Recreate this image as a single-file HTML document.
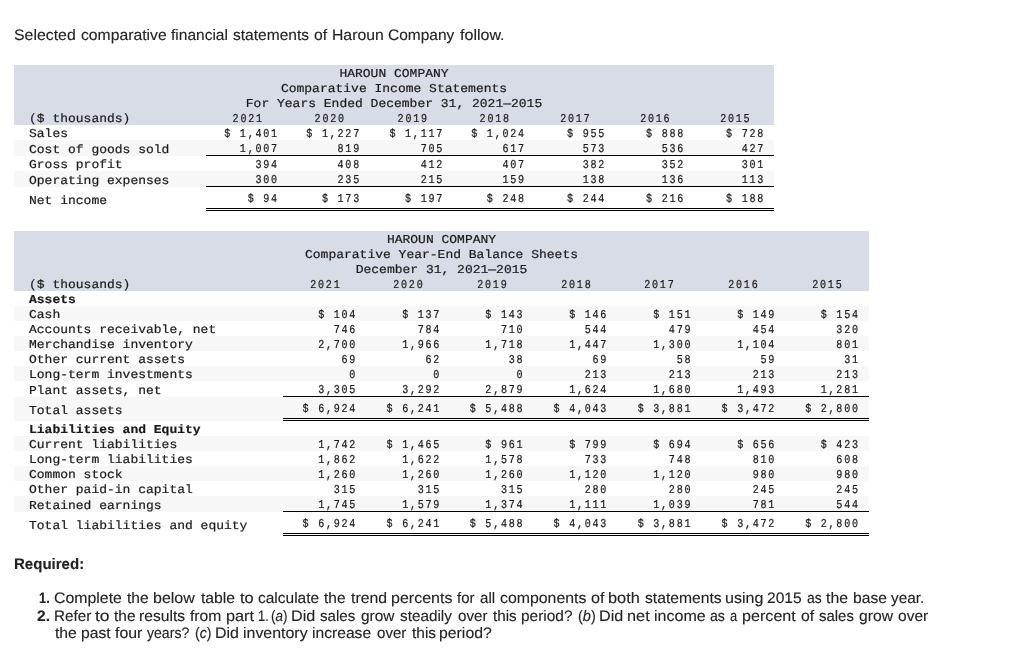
<!DOCTYPE html>
<html lang="en">
<head>
<meta charset="utf-8">
<title>Haroun Company</title>
<style>
html,body{margin:0;padding:0;background:#fff;}
body{position:relative;width:1018px;height:666px;overflow:hidden;font-family:"Liberation Sans",Arial,sans-serif;color:#222;}
.r{position:absolute;}
#tx{position:absolute;left:0;top:0;width:1018px;height:666px;}
.m{position:absolute;font-family:"Liberation Mono","Courier New",monospace;font-size:12px;letter-spacing:2.085px;transform:scaleX(0.84);line-height:15px;height:15px;white-space:pre;color:#1a1a1a;text-rendering:geometricPrecision;-webkit-text-stroke:0.22px #1a1a1a;}
.w{-webkit-text-stroke-width:0.2px;letter-spacing:0;transform:scaleX(1.08316);transform-origin:0 0;}
.b{font-weight:bold;}
.rt{text-align:right;transform-origin:100% 0;}
.ct{text-align:center;transform-origin:50% 0;}
.s{position:absolute;left:0;width:1018px;height:18px;font-size:15.2px;line-height:18px;white-space:pre;color:#222;text-rendering:geometricPrecision;-webkit-text-stroke:0.12px #222;}
.s span{position:absolute;top:0;transform-origin:0 0;}
.sb{font-weight:bold;}
</style>
</head>
<body>
<div class="s" id="intro" style="top:27px"><span style="left:13.98px;transform:scaleX(1.045)">Selected </span><span style="left:80.5px;transform:scaleX(1.035)">comparative </span><span style="left:171.3px;transform:scaleX(1.022)">financial </span><span style="left:232.6px;transform:scaleX(1.024)">statements </span><span style="left:313.9px;transform:scaleX(1.031)">of </span><span style="left:331.56px;transform:scaleX(1.037)">Haroun </span><span style="left:387.59px;transform:scaleX(1.020)">Company </span><span style="left:459.5px;transform:scaleX(1.056)">follow.</span></div>
<div class="s sb" id="req" style="top:556px"><span style="left:13.81px;transform:scaleX(0.990)">Required:</span></div>
<div class="s sb" id="n1" style="top:590px"><span style="left:39.18px;transform:scaleX(0.850)">1.</span></div>
<div class="s" id="l1" style="top:590px"><span style="left:53.98px;transform:scaleX(1.044)">Complete </span><span style="left:126.6px;transform:scaleX(1.024)">the </span><span style="left:152.65px;transform:scaleX(1.054)">below </span><span style="left:200.7px;transform:scaleX(1.034)">table </span><span style="left:239.6px;transform:scaleX(1.075)">to </span><span style="left:257.6px;transform:scaleX(1.020)">calculate </span><span style="left:324px;transform:scaleX(1.019)">the </span><span style="left:350.7px;transform:scaleX(1.041)">trend </span><span style="left:390.75px;transform:scaleX(1.054)">percents </span><span style="left:457.2px;transform:scaleX(0.983)">for </span><span style="left:480.2px;transform:scaleX(0.993)">all </span><span style="left:500px;transform:scaleX(1.044)">components </span><span style="left:591.1px;transform:scaleX(1.062)">of </span><span style="left:608.32px;transform:scaleX(1.075)">both </span><span style="left:644.8px;transform:scaleX(1.032)">statements </span><span style="left:725.44px;transform:scaleX(1.058)">using </span><span style="left:767.49px;transform:scaleX(1.028)">2015 </span><span style="left:806.7px;transform:scaleX(0.919)">as </span><span style="left:826.3px;transform:scaleX(1.048)">the </span><span style="left:852.57px;transform:scaleX(1.029)">base </span><span style="left:890.7px;transform:scaleX(1.012)">year.</span></div>
<div class="s sb" id="n2" style="top:608px"><span style="left:37px;transform:scaleX(1.025)">2.</span></div>
<div class="s" id="l2" style="top:608px"><span style="left:53.69px;transform:scaleX(1.008)">Refer </span><span style="left:95.4px;transform:scaleX(1.150)">to </span><span style="left:113.7px;transform:scaleX(1.019)">the </span><span style="left:139.47px;transform:scaleX(1.030)">results </span><span style="left:190.4px;transform:scaleX(1.030)">from </span><span style="left:225.93px;transform:scaleX(1.071)">part </span><span style="left:258.15px;transform:scaleX(0.850)">1. </span><span style="left:271.16px;transform:scaleX(0.886)">(<i>a</i>) </span><span style="left:291.33px;transform:scaleX(1.067)">Did </span><span style="left:320.1px;transform:scaleX(0.994)">sales </span><span style="left:360.5px;transform:scaleX(1.018)">grow </span><span style="left:399.5px;transform:scaleX(1.008)">steadily </span><span style="left:457.6px;transform:scaleX(0.997)">over </span><span style="left:493.1px;transform:scaleX(1.004)">this </span><span style="left:520.58px;transform:scaleX(1.016)">period? </span><span style="left:577.72px;transform:scaleX(0.954)">(<i>b</i>) </span><span style="left:599.04px;transform:scaleX(1.062)">Did </span><span style="left:627.03px;transform:scaleX(1.073)">net </span><span style="left:653.75px;transform:scaleX(1.055)">income </span><span style="left:710.4px;transform:scaleX(0.931)">as </span><span style="left:730px;transform:scaleX(0.850)">a </span><span style="left:741.94px;transform:scaleX(1.062)">percent </span><span style="left:800.8px;transform:scaleX(1.038)">of </span><span style="left:819.2px;transform:scaleX(0.983)">sales </span><span style="left:858.7px;transform:scaleX(1.033)">grow </span><span style="left:897.8px;transform:scaleX(1.023)">over</span></div>
<div class="s" id="l3" style="top:625px"><span style="left:54.5px;transform:scaleX(1.033)">the </span><span style="left:80.57px;transform:scaleX(1.029)">past </span><span style="left:114.8px;transform:scaleX(1.046)">four </span><span style="left:146.7px;transform:scaleX(0.927)">years? </span><span style="left:194.94px;transform:scaleX(0.927)">(<i>c</i>) </span><span style="left:215.25px;transform:scaleX(1.052)">Did </span><span style="left:242.65px;transform:scaleX(1.049)">inventory </span><span style="left:312.37px;transform:scaleX(1.030)">increase </span><span style="left:376.7px;transform:scaleX(0.993)">over </span><span style="left:411.8px;transform:scaleX(1.017)">this </span><span style="left:439.36px;transform:scaleX(1.042)">period?</span></div>
<div class="r" style="left:14px;top:65px;width:760px;height:60px;background:#d8dce6"></div>
<div class="r" style="left:14px;top:140px;width:760px;height:16px;background:#f7f7f7"></div>
<div class="r" style="left:206px;top:155px;width:568px;height:1px;background:#000"></div>
<div class="r" style="left:14px;top:171px;width:760px;height:16px;background:#f7f7f7"></div>
<div class="r" style="left:206px;top:186px;width:568px;height:1px;background:#000"></div>
<div class="r" style="left:206px;top:208px;width:568px;height:1px;background:#000"></div>
<div class="r" style="left:206px;top:210px;width:568px;height:1px;background:#000"></div>
<div class="r" style="left:14px;top:231px;width:855px;height:60px;background:#d8dce6"></div>
<div class="r" style="left:14px;top:306px;width:855px;height:15px;background:#f7f7f7"></div>
<div class="r" style="left:14px;top:336px;width:855px;height:15px;background:#f7f7f7"></div>
<div class="r" style="left:14px;top:366px;width:855px;height:15px;background:#f7f7f7"></div>
<div class="r" style="left:283px;top:396px;width:586px;height:1px;background:#000"></div>
<div class="r" style="left:14px;top:397px;width:855px;height:24px;background:#f7f7f7"></div>
<div class="r" style="left:283px;top:418px;width:586px;height:1px;background:#000"></div>
<div class="r" style="left:283px;top:420px;width:586px;height:1px;background:#000"></div>
<div class="r" style="left:14px;top:436px;width:855px;height:15px;background:#f7f7f7"></div>
<div class="r" style="left:14px;top:466px;width:855px;height:15px;background:#f7f7f7"></div>
<div class="r" style="left:14px;top:496px;width:855px;height:16px;background:#f7f7f7"></div>
<div class="r" style="left:283px;top:511px;width:586px;height:1px;background:#000"></div>
<div class="r" style="left:283px;top:533px;width:586px;height:1px;background:#000"></div>
<div class="r" style="left:283px;top:535px;width:586px;height:1px;background:#000"></div>
<div id="tx">
<div class="m ct w" style="left:14px;top:67px;width:760px;">HAROUN COMPANY</div>
<div class="m ct w" style="left:14px;top:82px;width:760px;">Comparative Income Statements</div>
<div class="m ct w" style="left:14px;top:97px;width:760px;">For Years Ended December 31, 2021—2015</div>
<div class="m w" style="left:29px;top:112px;">($ thousands)</div>
<div class="m ct" style="left:206.88px;top:112px;width:82.4px;">2021</div>
<div class="m ct" style="left:289.28px;top:112px;width:82.4px;">2020</div>
<div class="m ct" style="left:371.68px;top:112px;width:82.4px;">2019</div>
<div class="m ct" style="left:454.08px;top:112px;width:82.4px;">2018</div>
<div class="m ct" style="left:536.48px;top:112px;width:79.6px;">2017</div>
<div class="m ct" style="left:616.08px;top:112px;width:79.6px;">2016</div>
<div class="m ct" style="left:695.68px;top:112px;width:79.6px;">2015</div>
<div class="m w" style="left:29px;top:127px;">Sales</div>
<div class="m rt" style="left:206px;top:127px;width:72.85px;">$ 1,401</div>
<div class="m rt" style="left:288.4px;top:127px;width:72.95px;">$ 1,227</div>
<div class="m rt" style="left:370.8px;top:127px;width:73.05px;">$ 1,117</div>
<div class="m rt" style="left:453.2px;top:127px;width:72.85px;">$ 1,024</div>
<div class="m rt" style="left:535.6px;top:127px;width:70.05px;">$ 955</div>
<div class="m rt" style="left:615.2px;top:127px;width:70.05px;">$ 888</div>
<div class="m rt" style="left:694.8px;top:127px;width:70.05px;">$ 728</div>
<div class="m w" style="left:29px;top:142.7px;">Cost of goods sold</div>
<div class="m rt" style="left:206px;top:141.8px;width:72.85px;">1,007</div>
<div class="m rt" style="left:288.4px;top:141.8px;width:72.95px;">819</div>
<div class="m rt" style="left:370.8px;top:141.8px;width:73.05px;">705</div>
<div class="m rt" style="left:453.2px;top:141.8px;width:72.85px;">617</div>
<div class="m rt" style="left:535.6px;top:141.8px;width:70.05px;">573</div>
<div class="m rt" style="left:615.2px;top:141.8px;width:70.05px;">536</div>
<div class="m rt" style="left:694.8px;top:141.8px;width:70.05px;">427</div>
<div class="m w" style="left:29px;top:158px;">Gross profit</div>
<div class="m rt" style="left:206px;top:158px;width:72.85px;">394</div>
<div class="m rt" style="left:288.4px;top:158px;width:72.95px;">408</div>
<div class="m rt" style="left:370.8px;top:158px;width:73.05px;">412</div>
<div class="m rt" style="left:453.2px;top:158px;width:72.85px;">407</div>
<div class="m rt" style="left:535.6px;top:158px;width:70.05px;">382</div>
<div class="m rt" style="left:615.2px;top:158px;width:70.05px;">352</div>
<div class="m rt" style="left:694.8px;top:158px;width:70.05px;">301</div>
<div class="m w" style="left:29px;top:173.7px;">Operating expenses</div>
<div class="m rt" style="left:206px;top:172.8px;width:72.85px;">300</div>
<div class="m rt" style="left:288.4px;top:172.8px;width:72.95px;">235</div>
<div class="m rt" style="left:370.8px;top:172.8px;width:73.05px;">215</div>
<div class="m rt" style="left:453.2px;top:172.8px;width:72.85px;">159</div>
<div class="m rt" style="left:535.6px;top:172.8px;width:70.05px;">138</div>
<div class="m rt" style="left:615.2px;top:172.8px;width:70.05px;">136</div>
<div class="m rt" style="left:694.8px;top:172.8px;width:70.05px;">113</div>
<div class="m w" style="left:29px;top:193.8px;">Net income</div>
<div class="m rt" style="left:206px;top:191.9px;width:72.85px;">$ 94</div>
<div class="m rt" style="left:288.4px;top:191.9px;width:72.95px;">$ 173</div>
<div class="m rt" style="left:370.8px;top:191.9px;width:73.05px;">$ 197</div>
<div class="m rt" style="left:453.2px;top:191.9px;width:72.85px;">$ 248</div>
<div class="m rt" style="left:535.6px;top:191.9px;width:70.05px;">$ 244</div>
<div class="m rt" style="left:615.2px;top:191.9px;width:70.05px;">$ 216</div>
<div class="m rt" style="left:694.8px;top:191.9px;width:70.05px;">$ 188</div>
<div class="m ct w" style="left:14px;top:233px;width:855px;">HAROUN COMPANY</div>
<div class="m ct w" style="left:14px;top:248px;width:855px;">Comparative Year-End Balance Sheets</div>
<div class="m ct w" style="left:14px;top:263px;width:855px;">December 31, 2021—2015</div>
<div class="m w" style="left:29px;top:278px;">($ thousands)</div>
<div class="m ct" style="left:283.53px;top:278px;width:83.71px;">2021</div>
<div class="m ct" style="left:367.24px;top:278px;width:83.72px;">2020</div>
<div class="m ct" style="left:450.96px;top:278px;width:83.71px;">2019</div>
<div class="m ct" style="left:534.67px;top:278px;width:83.72px;">2018</div>
<div class="m ct" style="left:618.39px;top:278px;width:83.71px;">2017</div>
<div class="m ct" style="left:702.1px;top:278px;width:83.72px;">2016</div>
<div class="m ct" style="left:785.82px;top:278px;width:83.71px;">2015</div>
<div class="m b w" style="left:29px;top:293px;">Assets</div>
<div class="m w" style="left:29px;top:308px;">Cash</div>
<div class="m rt" style="left:283px;top:308px;width:74.16px;">$ 104</div>
<div class="m rt" style="left:366.71px;top:308px;width:74.17px;">$ 137</div>
<div class="m rt" style="left:450.43px;top:308px;width:74.36px;">$ 143</div>
<div class="m rt" style="left:534.14px;top:308px;width:74.17px;">$ 146</div>
<div class="m rt" style="left:617.86px;top:308px;width:74.26px;">$ 151</div>
<div class="m rt" style="left:701.57px;top:308px;width:74.17px;">$ 149</div>
<div class="m rt" style="left:785.29px;top:308px;width:74.76px;">$ 154</div>
<div class="m w" style="left:29px;top:323px;">Accounts receivable, net</div>
<div class="m rt" style="left:283px;top:323px;width:74.16px;">746</div>
<div class="m rt" style="left:366.71px;top:323px;width:74.17px;">784</div>
<div class="m rt" style="left:450.43px;top:323px;width:74.36px;">710</div>
<div class="m rt" style="left:534.14px;top:323px;width:74.17px;">544</div>
<div class="m rt" style="left:617.86px;top:323px;width:74.26px;">479</div>
<div class="m rt" style="left:701.57px;top:323px;width:74.17px;">454</div>
<div class="m rt" style="left:785.29px;top:323px;width:74.76px;">320</div>
<div class="m w" style="left:29px;top:338px;">Merchandise inventory</div>
<div class="m rt" style="left:283px;top:338px;width:74.16px;">2,700</div>
<div class="m rt" style="left:366.71px;top:338px;width:74.17px;">1,966</div>
<div class="m rt" style="left:450.43px;top:338px;width:74.36px;">1,718</div>
<div class="m rt" style="left:534.14px;top:338px;width:74.17px;">1,447</div>
<div class="m rt" style="left:617.86px;top:338px;width:74.26px;">1,300</div>
<div class="m rt" style="left:701.57px;top:338px;width:74.17px;">1,104</div>
<div class="m rt" style="left:785.29px;top:338px;width:74.76px;">801</div>
<div class="m w" style="left:29px;top:353px;">Other current assets</div>
<div class="m rt" style="left:283px;top:353px;width:74.16px;">69</div>
<div class="m rt" style="left:366.71px;top:353px;width:74.17px;">62</div>
<div class="m rt" style="left:450.43px;top:353px;width:74.36px;">38</div>
<div class="m rt" style="left:534.14px;top:353px;width:74.17px;">69</div>
<div class="m rt" style="left:617.86px;top:353px;width:74.26px;">58</div>
<div class="m rt" style="left:701.57px;top:353px;width:74.17px;">59</div>
<div class="m rt" style="left:785.29px;top:353px;width:74.76px;">31</div>
<div class="m w" style="left:29px;top:368px;">Long-term investments</div>
<div class="m rt" style="left:283px;top:368px;width:74.16px;">0</div>
<div class="m rt" style="left:366.71px;top:368px;width:74.17px;">0</div>
<div class="m rt" style="left:450.43px;top:368px;width:74.36px;">0</div>
<div class="m rt" style="left:534.14px;top:368px;width:74.17px;">213</div>
<div class="m rt" style="left:617.86px;top:368px;width:74.26px;">213</div>
<div class="m rt" style="left:701.57px;top:368px;width:74.17px;">213</div>
<div class="m rt" style="left:785.29px;top:368px;width:74.76px;">213</div>
<div class="m w" style="left:29px;top:383.7px;">Plant assets, net</div>
<div class="m rt" style="left:283px;top:382.8px;width:74.16px;">3,305</div>
<div class="m rt" style="left:366.71px;top:382.8px;width:74.17px;">3,292</div>
<div class="m rt" style="left:450.43px;top:382.8px;width:74.36px;">2,879</div>
<div class="m rt" style="left:534.14px;top:382.8px;width:74.17px;">1,624</div>
<div class="m rt" style="left:617.86px;top:382.8px;width:74.26px;">1,680</div>
<div class="m rt" style="left:701.57px;top:382.8px;width:74.17px;">1,493</div>
<div class="m rt" style="left:785.29px;top:382.8px;width:74.76px;">1,281</div>
<div class="m w" style="left:29px;top:403.8px;">Total assets</div>
<div class="m rt" style="left:283px;top:401.9px;width:74.16px;">$ 6,924</div>
<div class="m rt" style="left:366.71px;top:401.9px;width:74.17px;">$ 6,241</div>
<div class="m rt" style="left:450.43px;top:401.9px;width:74.36px;">$ 5,488</div>
<div class="m rt" style="left:534.14px;top:401.9px;width:74.17px;">$ 4,043</div>
<div class="m rt" style="left:617.86px;top:401.9px;width:74.26px;">$ 3,881</div>
<div class="m rt" style="left:701.57px;top:401.9px;width:74.17px;">$ 3,472</div>
<div class="m rt" style="left:785.29px;top:401.9px;width:74.76px;">$ 2,800</div>
<div class="m b w" style="left:29px;top:423px;">Liabilities and Equity</div>
<div class="m w" style="left:29px;top:438px;">Current liabilities</div>
<div class="m rt" style="left:283px;top:438px;width:74.16px;">1,742</div>
<div class="m rt" style="left:366.71px;top:438px;width:74.17px;">$ 1,465</div>
<div class="m rt" style="left:450.43px;top:438px;width:74.36px;">$ 961</div>
<div class="m rt" style="left:534.14px;top:438px;width:74.17px;">$ 799</div>
<div class="m rt" style="left:617.86px;top:438px;width:74.26px;">$ 694</div>
<div class="m rt" style="left:701.57px;top:438px;width:74.17px;">$ 656</div>
<div class="m rt" style="left:785.29px;top:438px;width:74.76px;">$ 423</div>
<div class="m w" style="left:29px;top:453px;">Long-term liabilities</div>
<div class="m rt" style="left:283px;top:453px;width:74.16px;">1,862</div>
<div class="m rt" style="left:366.71px;top:453px;width:74.17px;">1,622</div>
<div class="m rt" style="left:450.43px;top:453px;width:74.36px;">1,578</div>
<div class="m rt" style="left:534.14px;top:453px;width:74.17px;">733</div>
<div class="m rt" style="left:617.86px;top:453px;width:74.26px;">748</div>
<div class="m rt" style="left:701.57px;top:453px;width:74.17px;">810</div>
<div class="m rt" style="left:785.29px;top:453px;width:74.76px;">608</div>
<div class="m w" style="left:29px;top:468px;">Common stock</div>
<div class="m rt" style="left:283px;top:468px;width:74.16px;">1,260</div>
<div class="m rt" style="left:366.71px;top:468px;width:74.17px;">1,260</div>
<div class="m rt" style="left:450.43px;top:468px;width:74.36px;">1,260</div>
<div class="m rt" style="left:534.14px;top:468px;width:74.17px;">1,120</div>
<div class="m rt" style="left:617.86px;top:468px;width:74.26px;">1,120</div>
<div class="m rt" style="left:701.57px;top:468px;width:74.17px;">980</div>
<div class="m rt" style="left:785.29px;top:468px;width:74.76px;">980</div>
<div class="m w" style="left:29px;top:483px;">Other paid-in capital</div>
<div class="m rt" style="left:283px;top:483px;width:74.16px;">315</div>
<div class="m rt" style="left:366.71px;top:483px;width:74.17px;">315</div>
<div class="m rt" style="left:450.43px;top:483px;width:74.36px;">315</div>
<div class="m rt" style="left:534.14px;top:483px;width:74.17px;">280</div>
<div class="m rt" style="left:617.86px;top:483px;width:74.26px;">280</div>
<div class="m rt" style="left:701.57px;top:483px;width:74.17px;">245</div>
<div class="m rt" style="left:785.29px;top:483px;width:74.76px;">245</div>
<div class="m w" style="left:29px;top:498.7px;">Retained earnings</div>
<div class="m rt" style="left:283px;top:497.8px;width:74.16px;">1,745</div>
<div class="m rt" style="left:366.71px;top:497.8px;width:74.17px;">1,579</div>
<div class="m rt" style="left:450.43px;top:497.8px;width:74.36px;">1,374</div>
<div class="m rt" style="left:534.14px;top:497.8px;width:74.17px;">1,111</div>
<div class="m rt" style="left:617.86px;top:497.8px;width:74.26px;">1,039</div>
<div class="m rt" style="left:701.57px;top:497.8px;width:74.17px;">781</div>
<div class="m rt" style="left:785.29px;top:497.8px;width:74.76px;">544</div>
<div class="m w" style="left:29px;top:518.8px;">Total liabilities and equity</div>
<div class="m rt" style="left:283px;top:516.9px;width:74.16px;">$ 6,924</div>
<div class="m rt" style="left:366.71px;top:516.9px;width:74.17px;">$ 6,241</div>
<div class="m rt" style="left:450.43px;top:516.9px;width:74.36px;">$ 5,488</div>
<div class="m rt" style="left:534.14px;top:516.9px;width:74.17px;">$ 4,043</div>
<div class="m rt" style="left:617.86px;top:516.9px;width:74.26px;">$ 3,881</div>
<div class="m rt" style="left:701.57px;top:516.9px;width:74.17px;">$ 3,472</div>
<div class="m rt" style="left:785.29px;top:516.9px;width:74.76px;">$ 2,800</div>
</div>
</body>
</html>
